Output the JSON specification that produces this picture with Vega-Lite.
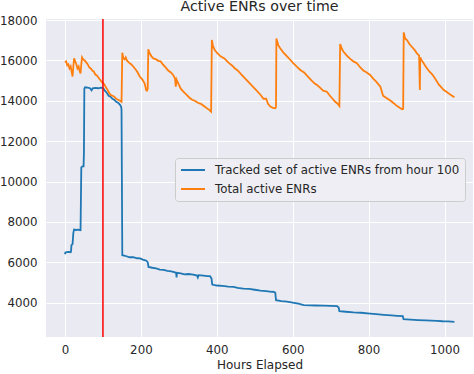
{
  "$schema": "https://vega.github.io/schema/vega-lite/v6.json",
  "width": 427,
  "height": 318,
  "autosize": "none",
  "padding": {"left": 46, "top": 19, "right": 1, "bottom": 37},
  "background": "white",
  "config": {
    "view": {"fill": "#EAEAF2", "stroke": null},
    "font": "DejaVu Sans",
    "axis": {
      "grid": true, "gridColor": "white", "gridWidth": 1,
      "domain": false, "ticks": false,
      "labelFont": "DejaVu Sans", "labelFontSize": 11.8, "labelColor": "#262626",
      "titleFont": "DejaVu Sans", "titleFontSize": 12, "titleFontWeight": "normal", "titleColor": "#262626"
    },
    "title": {"font": "DejaVu Sans", "fontSize": 14.2, "fontWeight": "normal", "color": "#262626", "offset": 1}
  },
  "title": "Active ENRs over time",
  "datasets": {
    "tracked": [
      {"x":0,"y":6400},{"x":1,"y":6480},{"x":5,"y":6500},{"x":10,"y":6520},{"x":15,"y":6500},{"x":16,"y":6550},{"x":17,"y":6850},{"x":20,"y":6900},{"x":22,"y":7450},{"x":24,"y":7620},{"x":30,"y":7600},{"x":35,"y":7620},{"x":40,"y":7600},{"x":41,"y":7550},{"x":43,"y":10700},{"x":46,"y":10750},{"x":49,"y":10750},{"x":50,"y":11500},{"x":51,"y":14600},{"x":53,"y":14670},{"x":60,"y":14650},{"x":66,"y":14620},{"x":70,"y":14520},{"x":73,"y":14620},{"x":80,"y":14640},{"x":88,"y":14620},{"x":95,"y":14650},{"x":101,"y":14620},{"x":105,"y":14500},{"x":110,"y":14400},{"x":115,"y":14250},{"x":120,"y":14200},{"x":125,"y":14100},{"x":130,"y":14050},{"x":135,"y":13950},{"x":140,"y":13900},{"x":145,"y":13800},{"x":148,"y":13700},{"x":149,"y":13550},{"x":151,"y":6350},{"x":156,"y":6330},{"x":162,"y":6300},{"x":170,"y":6250},{"x":180,"y":6260},{"x":190,"y":6200},{"x":198,"y":6190},{"x":205,"y":6130},{"x":212,"y":6100},{"x":215,"y":6070},{"x":218,"y":6000},{"x":220,"y":5770},{"x":230,"y":5730},{"x":240,"y":5700},{"x":250,"y":5640},{"x":260,"y":5620},{"x":270,"y":5580},{"x":280,"y":5550},{"x":290,"y":5500},{"x":293,"y":5450},{"x":294,"y":5250},{"x":295,"y":5480},{"x":305,"y":5450},{"x":315,"y":5400},{"x":325,"y":5420},{"x":338,"y":5390},{"x":348,"y":5340},{"x":350,"y":5250},{"x":352,"y":5360},{"x":365,"y":5340},{"x":375,"y":5320},{"x":382,"y":5310},{"x":386,"y":5200},{"x":388,"y":4900},{"x":400,"y":4850},{"x":415,"y":4830},{"x":430,"y":4800},{"x":444,"y":4785},{"x":455,"y":4730},{"x":470,"y":4700},{"x":485,"y":4680},{"x":500,"y":4640},{"x":515,"y":4600},{"x":530,"y":4570},{"x":545,"y":4540},{"x":550,"y":4535},{"x":554,"y":4500},{"x":556,"y":4125},{"x":570,"y":4080},{"x":585,"y":4050},{"x":600,"y":4000},{"x":615,"y":3950},{"x":629,"y":3880},{"x":645,"y":3870},{"x":660,"y":3860},{"x":680,"y":3850},{"x":700,"y":3840},{"x":717,"y":3830},{"x":721,"y":3760},{"x":723,"y":3580},{"x":740,"y":3550},{"x":760,"y":3520},{"x":780,"y":3500},{"x":804,"y":3460},{"x":820,"y":3430},{"x":840,"y":3400},{"x":860,"y":3370},{"x":875,"y":3350},{"x":890,"y":3330},{"x":892,"y":3180},{"x":910,"y":3160},{"x":930,"y":3140},{"x":950,"y":3120},{"x":965,"y":3110},{"x":980,"y":3100},{"x":995,"y":3080},{"x":1010,"y":3070},{"x":1026,"y":3050}
    ],
    "total": [
      {"x":0,"y":15900},{"x":3,"y":15950},{"x":6,"y":15750},{"x":9,"y":15800},{"x":12,"y":15600},{"x":15,"y":15700},{"x":18,"y":15400},{"x":20,"y":15200},{"x":22,"y":15700},{"x":24,"y":16100},{"x":27,"y":15950},{"x":30,"y":15800},{"x":33,"y":15600},{"x":36,"y":15700},{"x":39,"y":15450},{"x":41,"y":15350},{"x":43,"y":15800},{"x":45,"y":16150},{"x":48,"y":16050},{"x":52,"y":16000},{"x":56,"y":15900},{"x":60,"y":15800},{"x":64,"y":15650},{"x":68,"y":15600},{"x":72,"y":15500},{"x":76,"y":15450},{"x":80,"y":15300},{"x":84,"y":15250},{"x":88,"y":15150},{"x":92,"y":15050},{"x":96,"y":14950},{"x":100,"y":14880},{"x":104,"y":14800},{"x":108,"y":14650},{"x":112,"y":14550},{"x":116,"y":14400},{"x":120,"y":14300},{"x":125,"y":14250},{"x":130,"y":14200},{"x":135,"y":14100},{"x":140,"y":14050},{"x":145,"y":14000},{"x":149,"y":13950},{"x":151,"y":16380},{"x":154,"y":16100},{"x":157,"y":16050},{"x":160,"y":16150},{"x":163,"y":16000},{"x":168,"y":15900},{"x":175,"y":15800},{"x":182,"y":15650},{"x":190,"y":15450},{"x":197,"y":15200},{"x":204,"y":15050},{"x":210,"y":14850},{"x":214,"y":14520},{"x":216,"y":14500},{"x":218,"y":14600},{"x":219.5,"y":16550},{"x":223,"y":16350},{"x":228,"y":16200},{"x":233,"y":16100},{"x":240,"y":16050},{"x":246,"y":15980},{"x":252,"y":15950},{"x":258,"y":15800},{"x":265,"y":15650},{"x":272,"y":15500},{"x":279,"y":15400},{"x":285,"y":15280},{"x":290,"y":15100},{"x":292,"y":14700},{"x":294,"y":15050},{"x":300,"y":14800},{"x":305,"y":14600},{"x":312,"y":14450},{"x":320,"y":14300},{"x":328,"y":14150},{"x":335,"y":14050},{"x":342,"y":14000},{"x":350,"y":13900},{"x":358,"y":13850},{"x":365,"y":13750},{"x":372,"y":13650},{"x":380,"y":13550},{"x":385,"y":13460},{"x":387,"y":17010},{"x":390,"y":16700},{"x":395,"y":16500},{"x":402,"y":16350},{"x":410,"y":16200},{"x":420,"y":16100},{"x":430,"y":15900},{"x":440,"y":15750},{"x":448,"y":15600},{"x":455,"y":15500},{"x":465,"y":15300},{"x":475,"y":15100},{"x":485,"y":14900},{"x":495,"y":14700},{"x":505,"y":14500},{"x":515,"y":14300},{"x":523,"y":14100},{"x":530,"y":14100},{"x":535,"y":13850},{"x":541,"y":13710},{"x":548,"y":13650},{"x":554,"y":13630},{"x":556,"y":13700},{"x":557,"y":17090},{"x":562,"y":16750},{"x":567,"y":16600},{"x":575,"y":16400},{"x":585,"y":16200},{"x":594,"y":16020},{"x":602,"y":15850},{"x":610,"y":15700},{"x":620,"y":15525},{"x":630,"y":15400},{"x":640,"y":15200},{"x":650,"y":15000},{"x":658,"y":14850},{"x":664,"y":14780},{"x":672,"y":14650},{"x":680,"y":14500},{"x":690,"y":14450},{"x":698,"y":14250},{"x":705,"y":14100},{"x":712,"y":13950},{"x":717,"y":13880},{"x":723,"y":13740},{"x":725,"y":16810},{"x":730,"y":16550},{"x":734,"y":16430},{"x":742,"y":16250},{"x":750,"y":16100},{"x":760,"y":15950},{"x":769,"y":15860},{"x":778,"y":15650},{"x":786,"y":15500},{"x":795,"y":15400},{"x":804,"y":15280},{"x":812,"y":15100},{"x":820,"y":14950},{"x":831,"y":14700},{"x":835,"y":14450},{"x":838,"y":14250},{"x":842,"y":14200},{"x":850,"y":14100},{"x":858,"y":14000},{"x":866,"y":13880},{"x":874,"y":13750},{"x":882,"y":13650},{"x":888,"y":13580},{"x":891,"y":13600},{"x":892.5,"y":17390},{"x":896,"y":17100},{"x":901,"y":17010},{"x":908,"y":16800},{"x":915,"y":16650},{"x":922,"y":16500},{"x":927,"y":16350},{"x":933,"y":16250},{"x":935,"y":14530},{"x":936,"y":16150},{"x":940,"y":16000},{"x":945,"y":15860},{"x":952,"y":15650},{"x":960,"y":15450},{"x":968,"y":15300},{"x":975,"y":15100},{"x":980,"y":14950},{"x":985,"y":14800},{"x":990,"y":14700},{"x":998,"y":14530},{"x":1005,"y":14450},{"x":1012,"y":14350},{"x":1020,"y":14250},{"x":1026,"y":14170}
    ],
    "marker": [{"x": 100}]
  },
  "encoding": {
    "x": {"field": "x", "type": "quantitative", "scale": {"domain": [-50, 1075], "nice": false, "zero": false},
          "axis": {"values": [0, 200, 400, 600, 800, 1000], "format": "d", "title": "Hours Elapsed", "labelPadding": 7, "titlePadding": 4}},
    "y": {"field": "y", "type": "quantitative", "scale": {"domain": [2300, 18050], "nice": false, "zero": false},
          "axis": {"values": [4000, 6000, 8000, 10000, 12000, 14000, 16000, 18000], "format": "d", "title": null, "labelPadding": 9}}
  },
  "layer": [
    {
      "data": {"name": "tracked"},
      "transform": [{"calculate": "'Tracked set of active ENRs from hour 100'", "as": "s"}],
      "mark": {"type": "line", "strokeWidth": 1.8, "interpolate": "linear"},
      "encoding": {
        "color": {"field": "s", "type": "nominal",
          "scale": {"domain": ["Tracked set of active ENRs from hour 100", "Total active ENRs"], "range": ["#1f77b4", "#ff7f0e"]},
          "legend": {"title": null, "orient": "none", "legendX": 129, "legendY": 139, "symbolType": "M-1,0H3", "symbolSize": 144, "symbolStrokeWidth": 2, "labelFontSize": 11.8, "labelFont": "DejaVu Sans", "labelColor": "#262626", "labelLimit": 400, "labelOffset": 21, "padding": 5, "rowPadding": 5, "fillColor": "#EEEEF4", "strokeColor": "#cccccc", "cornerRadius": 3}}
      }
    },
    {
      "data": {"name": "total"},
      "transform": [{"calculate": "'Total active ENRs'", "as": "s"}],
      "mark": {"type": "line", "strokeWidth": 1.8, "interpolate": "linear"},
      "encoding": {"color": {"field": "s", "type": "nominal"}}
    },
    {
      "data": {"name": "marker"},
      "mark": {"type": "rule", "color": "#ff0000", "strokeWidth": 1.5},
      "encoding": {"x": {"field": "x", "type": "quantitative"}, "y": {"value": 0}, "y2": {"value": 318}}
    }
  ]
}
